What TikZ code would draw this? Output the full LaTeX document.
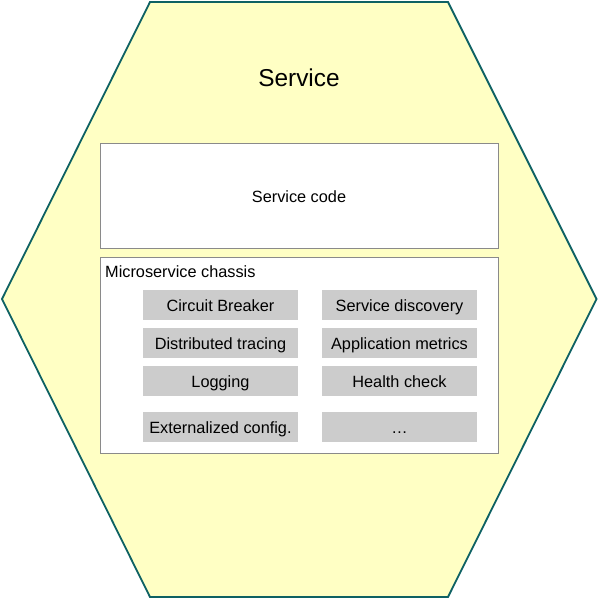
\documentclass[tikz,border=0pt]{standalone}
\usepackage{fontspec}
\setmainfont{Liberation Sans}
\definecolor{hexfill}{HTML}{FFFFC4}
\definecolor{hexline}{HTML}{0E6163}
\definecolor{boxline}{HTML}{8A8A8A}
\definecolor{partfill}{HTML}{CCCCCC}
\tikzset{
    label/.style={font=\fontsize{16.3}{19}\selectfont},
    part/.style={label, fill=partfill, minimum width=155pt, minimum height=30pt, inner sep=0pt, text height=12pt, text depth=0pt},
    panel/.style={draw=boxline, line width=0.8pt, fill=white}
}
\begin{document}
\begin{tikzpicture}[x=1pt,y=-1pt]
        \useasboundingbox (0,0) rectangle (598,598);
        \draw [hexline, fill=hexfill, line width=1.8pt, line join=miter] (150,2)-- (448,2)-- (596.5,299)-- (448,597)-- (150,597)-- (2,299)-- cycle;
        \node (service) at (299,78) {\fontsize{24.4}{28}\selectfont Service};
        \draw [panel] (100,143) rectangle (498,248);
        \node [label] (code) at (299,197) {Service code};
        \draw [panel] (100,257) rectangle (498,453);
        \node [label, anchor=base west, inner sep=0pt] (chassis) at (105,277) {Microservice chassis};
        \node [part] (breaker) at (220.5,305) {Circuit Breaker};
        \node [part] (discovery) at (399.5,305) {Service discovery};
        \node [part] (tracing) at (220.5,343) {Distributed tracing};
        \node [part] (metrics) at (399.5,343) {Application metrics};
        \node [part] (logging) at (220.5,381) {Logging};
        \node [part] (health) at (399.5,381) {Health check};
        \node [part] (config) at (220.5,427) {Externalized config.};
        \node [part] (more) at (399.5,427) {\dots};
    \end{tikzpicture}
\end{document}
